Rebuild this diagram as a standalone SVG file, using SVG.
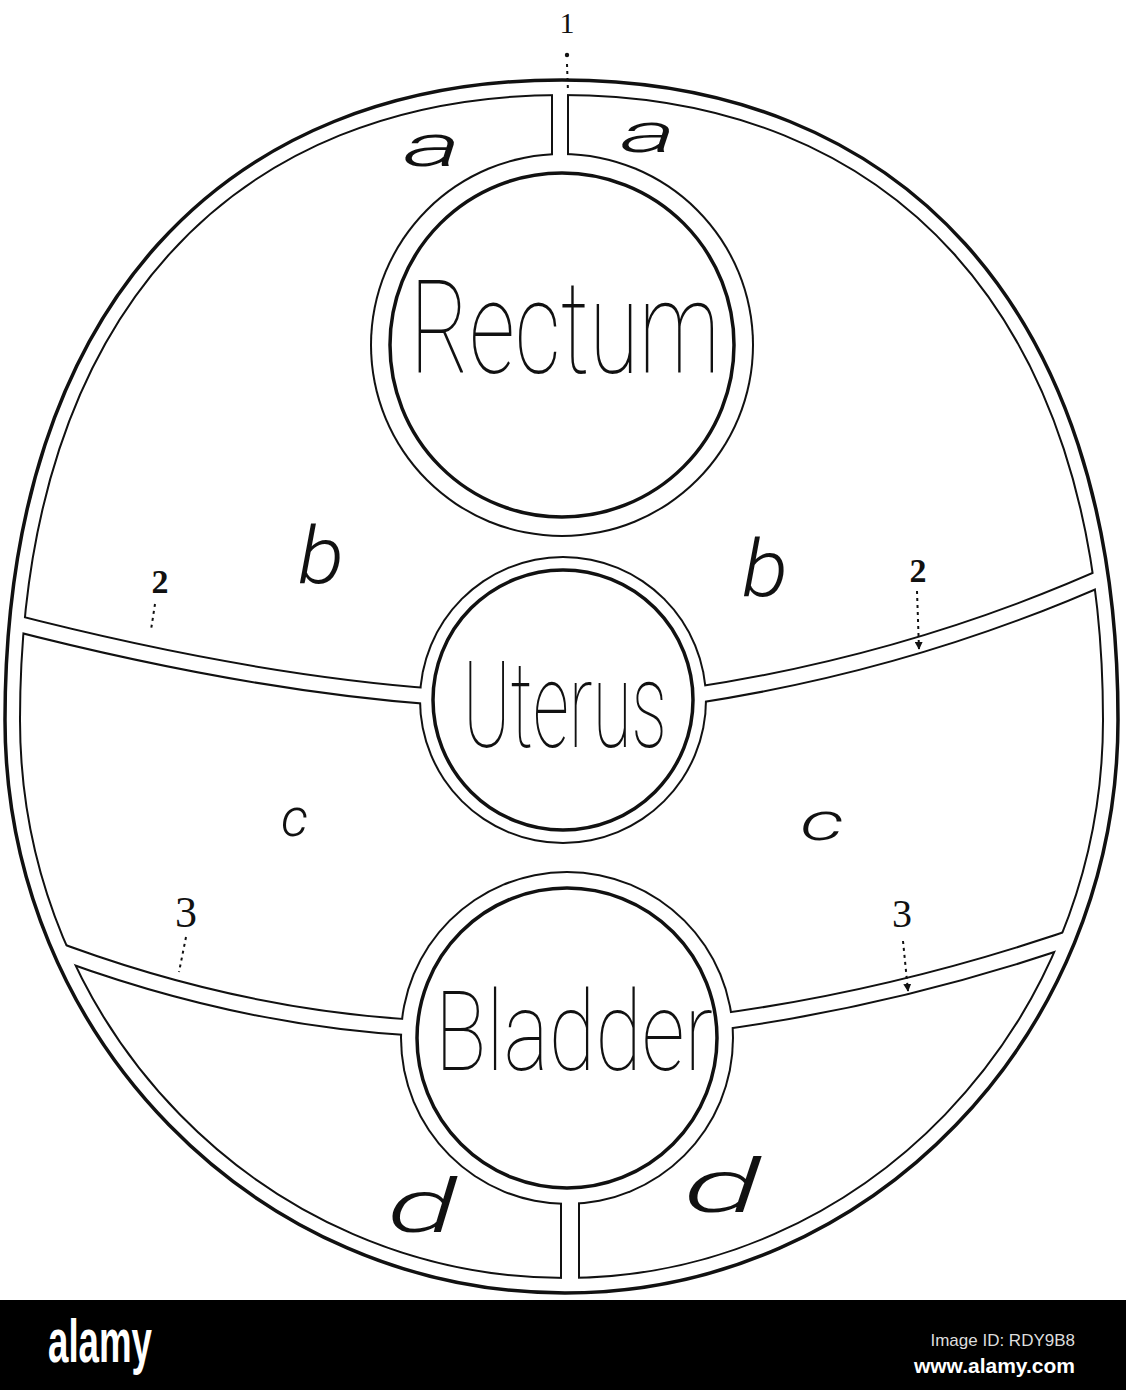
<svg xmlns="http://www.w3.org/2000/svg" width="1126" height="1390" viewBox="0 0 1126 1390">
<style>
.blk{fill:none;stroke:#111;stroke-linejoin:round}
.wht{fill:none;stroke:#fff;stroke-linejoin:round}
.organ{fill:#fff;stroke:#111;stroke-width:3.5}
.big{font-family:"Roboto","Liberation Sans",sans-serif;font-weight:100;fill:#111}
.let{font-family:"Roboto","Liberation Sans",sans-serif;font-weight:300;font-style:italic;fill:#111}
.num{font-family:"Liberation Serif",serif;fill:#111}
.lead{fill:none;stroke:#111;stroke-width:2;stroke-dasharray:3 4}
</style>
<defs>
<path id="outer" d="M562 80 C896 80 1118 304 1118 720 C1118 1036 870 1293 565 1293 C256 1293 5 1036 5 720 C5 304 228 80 562 80 Z"/>
<clipPath id="inside"><use href="#outer"/></clipPath>
<marker id="arr" viewBox="0 0 10 10" refX="9" refY="5" markerWidth="8" markerHeight="8" markerUnits="userSpaceOnUse" orient="auto"><path d="M0 0 L10 5 L0 10 Z" fill="#111"/></marker>
</defs>
<rect width="1126" height="1390" fill="#fff"/>
<g id="walls" clip-path="url(#inside)">
  <g id="walls-black">
    <use href="#outer" class="blk" stroke-width="32"/>
    <path class="blk" stroke-width="18" d="M-5 618 Q244 683 440 697"/>
    <path class="blk" stroke-width="18" d="M690 696 Q923 661 1130 565"/>
    <path class="blk" stroke-width="18" d="M40 944 Q232 1018 420 1028"/>
    <path class="blk" stroke-width="18" d="M718 1022 Q910 996 1100 928"/>
    <path class="blk" stroke-width="18" d="M560 60 L560 172"/>
    <path class="blk" stroke-width="20" d="M570 1180 L570 1310"/>
    <circle cx="562" cy="345" r="192" fill="#111"/>
    <circle cx="563" cy="700" r="144" fill="#111"/>
    <circle cx="567" cy="1038" r="167" fill="#111"/>
  </g>
  <g id="walls-white">
    <use href="#outer" class="wht" stroke-width="28"/>
    <path class="wht" stroke-width="14" d="M-5 618 Q244 683 440 697"/>
    <path class="wht" stroke-width="14" d="M690 696 Q923 661 1130 565"/>
    <path class="wht" stroke-width="14" d="M40 944 Q232 1018 420 1028"/>
    <path class="wht" stroke-width="14" d="M718 1022 Q910 996 1100 928"/>
    <path class="wht" stroke-width="14" d="M560 60 L560 172"/>
    <path class="wht" stroke-width="16" d="M570 1180 L570 1310"/>
    <circle cx="562" cy="345" r="190" fill="#fff"/>
    <circle cx="563" cy="700" r="142" fill="#fff"/>
    <circle cx="567" cy="1038" r="165" fill="#fff"/>
  </g>
</g>
<use id="outer-line" href="#outer" class="blk" stroke-width="3.5"/>
<g id="rectum">
  <circle class="organ" cx="562" cy="345" r="172"/>
  <text class="big" x="410" y="373" font-size="130" textLength="310" lengthAdjust="spacingAndGlyphs">Rectum</text>
</g>
<g id="uterus">
  <circle class="organ" cx="563" cy="700" r="130"/>
  <text class="big" x="463" y="747" font-size="120" textLength="204" lengthAdjust="spacingAndGlyphs">Uterus</text>
</g>
<g id="bladder">
  <circle class="organ" cx="567" cy="1038" r="150"/>
  <text class="big" x="435" y="1070" font-size="112" textLength="278" lengthAdjust="spacingAndGlyphs">Bladder</text>
</g>
<g id="space-labels">
  <text class="let" x="403" y="166" font-size="60" textLength="58" lengthAdjust="spacingAndGlyphs">a</text>
  <text class="let" x="620" y="152" font-size="56" textLength="56" lengthAdjust="spacingAndGlyphs">a</text>
  <text class="let" x="298" y="583" font-size="80" textLength="46" lengthAdjust="spacingAndGlyphs">b</text>
  <text class="let" x="742" y="596" font-size="80" textLength="46" lengthAdjust="spacingAndGlyphs">b</text>
  <text class="let" x="281" y="836" font-size="54" font-style="normal">c</text>
  <text class="let" x="800" y="840" font-size="54" font-style="normal" textLength="44" lengthAdjust="spacingAndGlyphs">c</text>
  <text class="let" x="387" y="1232" font-size="74" textLength="70" lengthAdjust="spacingAndGlyphs">d</text>
  <text class="let" x="683" y="1212" font-size="74" textLength="78" lengthAdjust="spacingAndGlyphs">d</text>
</g>
<g id="number-labels">
  <text class="num" x="567" y="33" font-size="30" text-anchor="middle">1</text>
  <text class="num" x="160" y="593" font-size="34" font-weight="bold" text-anchor="middle">2</text>
  <text class="num" x="918" y="582" font-size="34" font-weight="bold" text-anchor="middle">2</text>
  <text class="num" x="186" y="927" font-size="44" text-anchor="middle">3</text>
  <text class="num" x="902" y="927" font-size="40" text-anchor="middle">3</text>
</g>
<g id="connectors">
  <circle cx="567" cy="55" r="2.2" fill="#111"/>
  <path class="lead" d="M567 64 L568 92"/>
  <path class="lead" d="M155 604 L151 630"/>
  <path class="lead" d="M917 591 L919 649" marker-end="url(#arr)"/>
  <path class="lead" d="M186 937 L179 972"/>
  <path class="lead" d="M903 941 L908 991" marker-end="url(#arr)"/>
</g>
<g id="banner">
  <rect x="0" y="1300" width="1126" height="90" fill="#000"/>
  <text x="48" y="1362" font-family="Liberation Sans, sans-serif" font-weight="bold" font-size="62" fill="#fff" textLength="104" lengthAdjust="spacingAndGlyphs">alamy</text>
  <text x="1075" y="1346" font-family="Liberation Sans, sans-serif" font-size="17" fill="#ddd" text-anchor="end">Image ID: RDY9B8</text>
  <text x="1075" y="1373" font-family="Liberation Sans, sans-serif" font-weight="bold" font-size="21" fill="#fff" text-anchor="end">www.alamy.com</text>
</g>
</svg>
